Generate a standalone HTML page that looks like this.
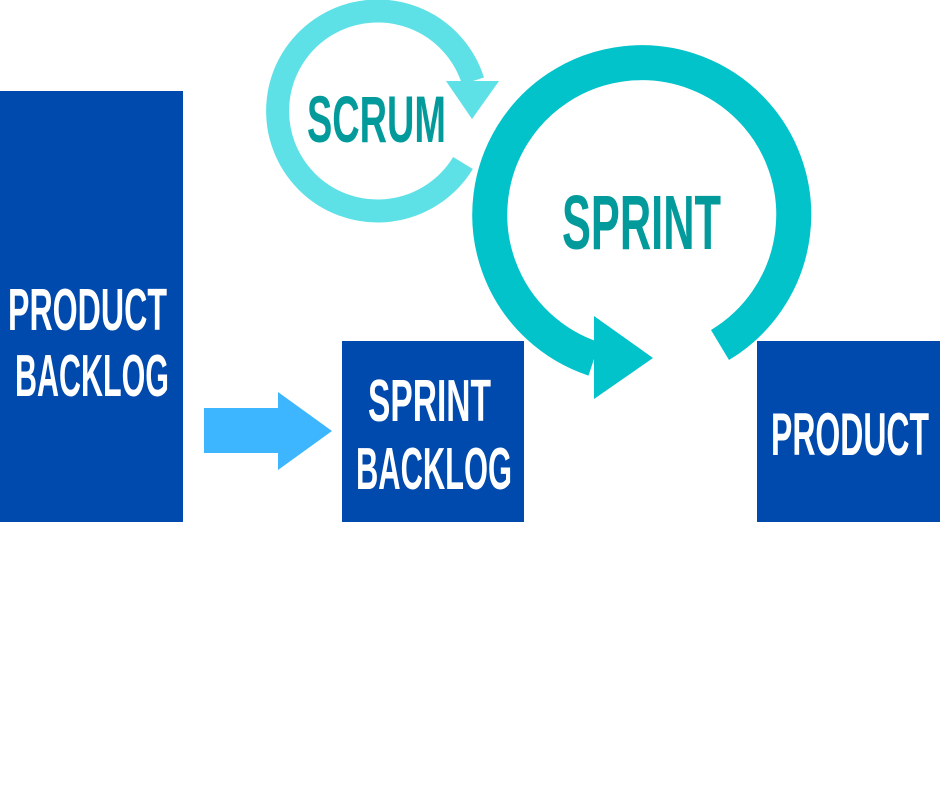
<!DOCTYPE html>
<html><head><meta charset="utf-8"><style>
html,body{margin:0;padding:0;background:#fff;width:940px;height:788px;overflow:hidden}
text{font-family:"Liberation Sans Narrow","Liberation Sans",sans-serif;font-weight:bold}
</style></head><body>
<svg width="940" height="788" viewBox="0 0 940 788" xmlns="http://www.w3.org/2000/svg">
<rect x="0" y="91" width="183" height="431" fill="#0049AD"/>
<rect x="342" y="341" width="182" height="181" fill="#0049AD"/>
<rect x="757" y="341" width="183" height="181" fill="#0049AD"/>
<polygon points="204,408 278,408 278,392 332,431 278,470 278,453 204,453" fill="#3DB5FF"/>
<!-- scrum ring -->
<path d="M463,163 A100,100 0 1 1 473,81" fill="none" stroke="#5EE1E6" stroke-width="23"/>
<polygon points="446,81 499,81 472,119" fill="#5EE1E6"/>
<!-- sprint ring -->
<path d="M720,345 A152,152 0 1 0 594,359" fill="none" stroke="#02C2CA" stroke-width="35"/>
<polygon points="594,316 594,399 653,358" fill="#02C2CA"/>
<text x="307" y="142" font-size="66" fill="#039A9C" textLength="139" lengthAdjust="spacingAndGlyphs">SCRUM</text>
<text x="562" y="249" font-size="77" fill="#039A9C" textLength="159" lengthAdjust="spacingAndGlyphs">SPRINT</text>
<g fill="#fff">
<text x="8" y="330" font-size="59" textLength="159" lengthAdjust="spacingAndGlyphs">PRODUCT</text>
<text x="15" y="396" font-size="59" textLength="154" lengthAdjust="spacingAndGlyphs">BACKLOG</text>
<text x="368" y="421" font-size="59" textLength="123" lengthAdjust="spacingAndGlyphs">SPRINT</text>
<text x="356" y="489" font-size="59" textLength="156" lengthAdjust="spacingAndGlyphs">BACKLOG</text>
<text x="771" y="455" font-size="60" textLength="158" lengthAdjust="spacingAndGlyphs">PRODUCT</text>
</g>
</svg>
</body></html>
